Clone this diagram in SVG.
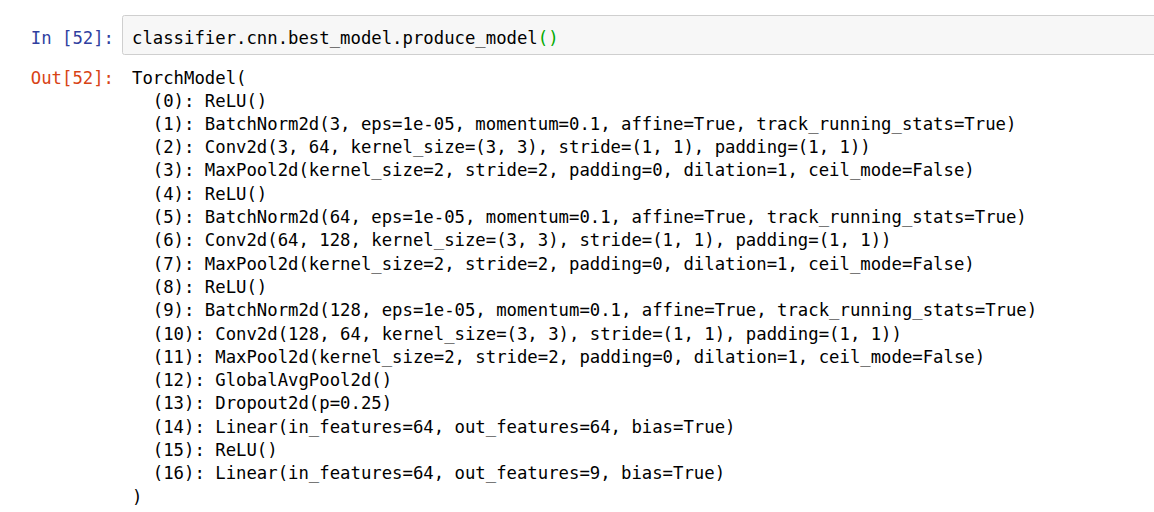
<svg xmlns="http://www.w3.org/2000/svg" width="1154" height="512" viewBox="0 0 1154 512">
<style>
text{font-family:"DejaVu Sans Mono","Liberation Mono",monospace;font-size:17.3px;fill:#000;white-space:pre}
.in{fill:#303F9F}.out{fill:#D84315}.g{fill:#00AA00}
</style>
<rect width="1154" height="512" fill="#fff"/>
<g id="input">
<rect x="122.5" y="15.5" width="1040" height="39" rx="2" fill="#f7f7f7" stroke="#cfcfcf"/>
<text class="in" x="114" y="44" text-anchor="end">In [52]:</text>
<text x="132" y="44">classifier.cnn.best_model.produce_model<tspan class="g">()</tspan></text>
</g>
<g id="output">
<text class="out" x="114" y="84" text-anchor="end">Out[52]:</text>
<text x="132" y="84">TorchModel(</text>
<text x="132" y="106.5">  (0): ReLU()</text>
<text x="132" y="129.8">  (1): BatchNorm2d(3, eps=1e-05, momentum=0.1, affine=True, track_running_stats=True)</text>
<text x="132" y="153.1">  (2): Conv2d(3, 64, kernel_size=(3, 3), stride=(1, 1), padding=(1, 1))</text>
<text x="132" y="176.4">  (3): MaxPool2d(kernel_size=2, stride=2, padding=0, dilation=1, ceil_mode=False)</text>
<text x="132" y="199.7">  (4): ReLU()</text>
<text x="132" y="223">  (5): BatchNorm2d(64, eps=1e-05, momentum=0.1, affine=True, track_running_stats=True)</text>
<text x="132" y="246.3">  (6): Conv2d(64, 128, kernel_size=(3, 3), stride=(1, 1), padding=(1, 1))</text>
<text x="132" y="269.6">  (7): MaxPool2d(kernel_size=2, stride=2, padding=0, dilation=1, ceil_mode=False)</text>
<text x="132" y="292.9">  (8): ReLU()</text>
<text x="132" y="316.2">  (9): BatchNorm2d(128, eps=1e-05, momentum=0.1, affine=True, track_running_stats=True)</text>
<text x="132" y="339.5">  (10): Conv2d(128, 64, kernel_size=(3, 3), stride=(1, 1), padding=(1, 1))</text>
<text x="132" y="362.8">  (11): MaxPool2d(kernel_size=2, stride=2, padding=0, dilation=1, ceil_mode=False)</text>
<text x="132" y="386.1">  (12): GlobalAvgPool2d()</text>
<text x="132" y="409.4">  (13): Dropout2d(p=0.25)</text>
<text x="132" y="432.7">  (14): Linear(in_features=64, out_features=64, bias=True)</text>
<text x="132" y="456">  (15): ReLU()</text>
<text x="132" y="479.3">  (16): Linear(in_features=64, out_features=9, bias=True)</text>
<text x="132" y="502.6">)</text>
</g>
</svg>
